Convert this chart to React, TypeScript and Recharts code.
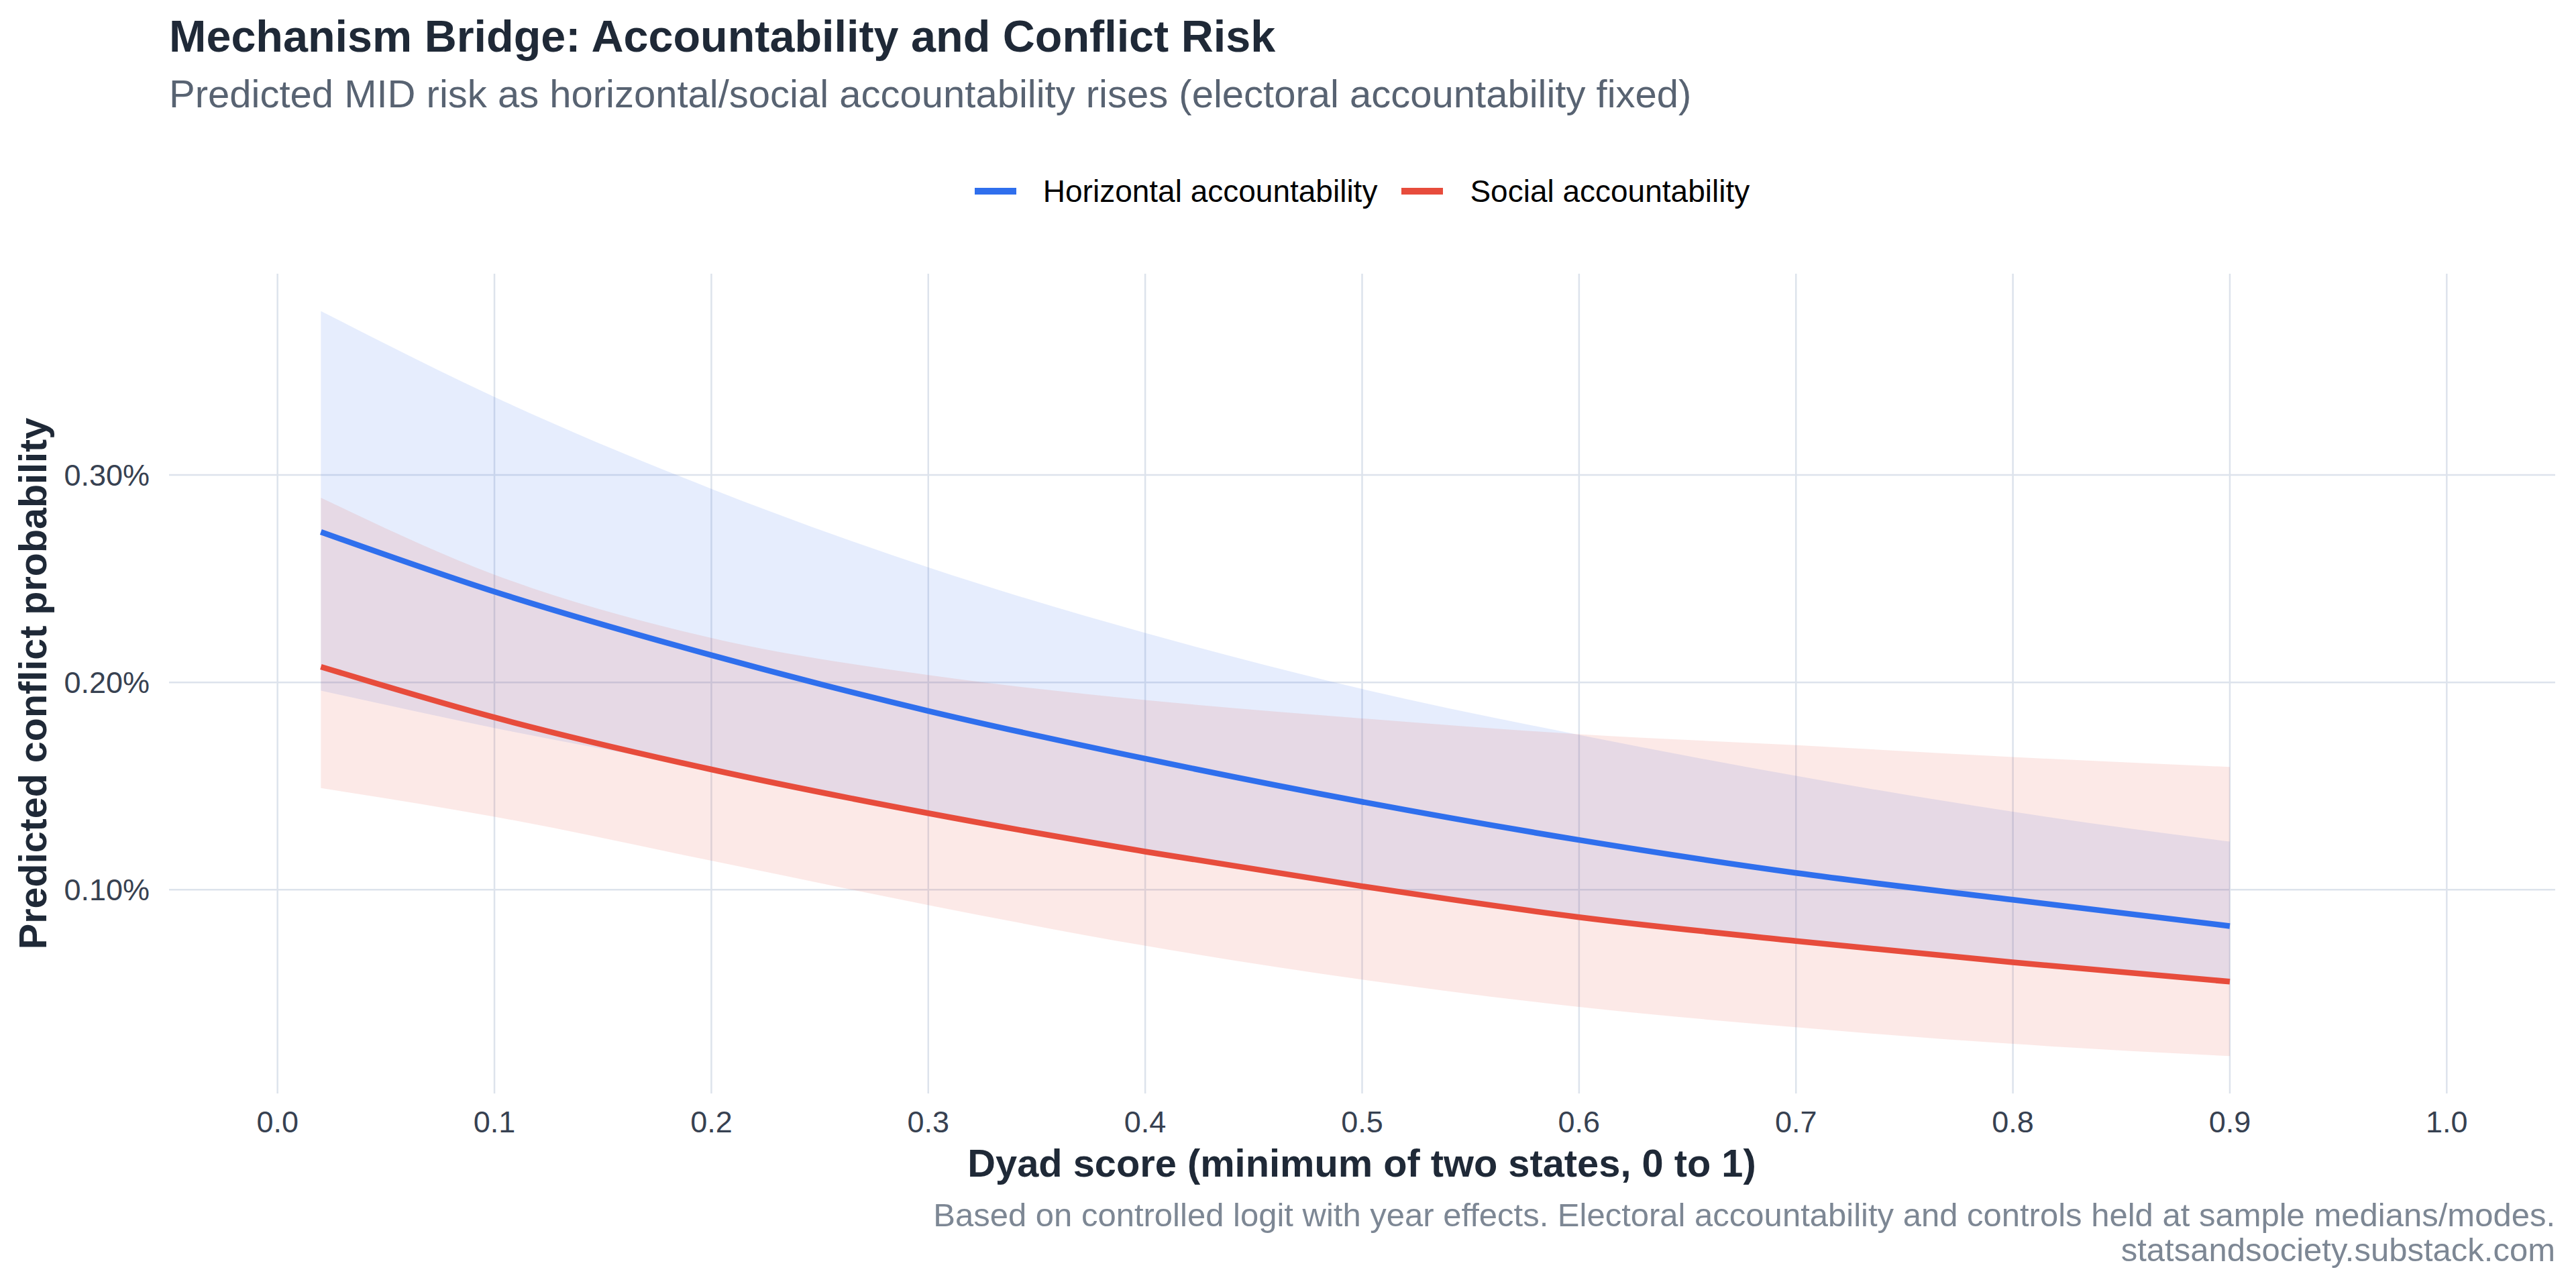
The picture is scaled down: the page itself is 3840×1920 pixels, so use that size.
import React from "react";
import {
  ComposedChart,
  Area,
  Line,
  XAxis,
  YAxis,
  CartesianGrid,
  Legend,
} from "recharts";

// Dyad score grid (x) and predicted MID probabilities, in percent
const scores = [0.02, 0.1, 0.2, 0.3, 0.4, 0.5, 0.6, 0.7, 0.8, 0.9];

const horizontalFit = [0.2725, 0.2437, 0.2131, 0.1862, 0.1632, 0.1424, 0.124, 0.1081, 0.0952, 0.0825];
const horizontalLow = [0.196, 0.178, 0.158, 0.1368, 0.1183, 0.1016, 0.0867, 0.0752, 0.0649, 0.0556];
const horizontalHigh = [0.379, 0.3376, 0.2933, 0.2554, 0.2238, 0.1968, 0.1747, 0.1549, 0.1376, 0.1232];

const socialFit = [0.2075, 0.1831, 0.158, 0.1369, 0.1184, 0.1017, 0.0868, 0.0753, 0.065, 0.0557];
const socialLow = [0.149, 0.1352, 0.114, 0.0926, 0.073, 0.0567, 0.0435, 0.0337, 0.0257, 0.0198];
const socialHigh = [0.289, 0.2519, 0.2214, 0.2035, 0.1915, 0.1826, 0.175, 0.1697, 0.164, 0.1592];

const xTicks = [0, 0.1, 0.2, 0.3, 0.4, 0.5, 0.6, 0.7, 0.8, 0.9, 1.0];
const yTicks = [0.1, 0.2, 0.3];

const BLUE = "#2f6fed";
const RED = "#e74c3c";
const FONT = "'Liberation Sans', Arial, Helvetica, sans-serif";

const data = scores.map((score, i) => ({
  score,
  horizontal: horizontalFit[i],
  horizontalBand: [horizontalLow[i], horizontalHigh[i]],
  social: socialFit[i],
  socialBand: [socialLow[i], socialHigh[i]],
}));

function LegendContent(props: any) {
  const items = (props.payload || []).filter((p: any) => p.type !== "none");
  return (
    <div
      style={{
        display: "flex",
        justifyContent: "center",
        alignItems: "center",
        height: 54,
        fontFamily: FONT,
        fontSize: 46,
        lineHeight: "54px",
        color: "#000",
      }}
    >
      {items.map((item: any, i: number) => (
        <div key={item.value} style={{ display: "flex", alignItems: "center", marginLeft: i === 0 ? 0 : 36 }}>
          <span style={{ display: "inline-block", width: 62, height: 10, background: item.color, marginRight: 40 }} />
          <span>{item.value}</span>
        </div>
      ))}
    </div>
  );
}

export default function App(): React.JSX.Element {
  return (
    <div
      style={{
        position: "absolute",
        left: 0,
        top: 0,
        width: 3840,
        height: 1920,
        background: "#ffffff",
        fontFamily: FONT,
      }}
    >
      <ComposedChart
        width={3840}
        height={1920}
        data={data}
        margin={{ top: 408, right: 31, bottom: 230, left: 0 }}
      >
        {/* only the major breaks, no panel edges */}
        <CartesianGrid
          stroke="#dde3ec"
          strokeWidth={2.5}
          syncWithTicks
          horizontalValues={yTicks}
          verticalValues={xTicks}
        />
        <XAxis
          dataKey="score"
          type="number"
          domain={[-0.05, 1.05]}
          ticks={xTicks}
          tickFormatter={(v: number) => v.toFixed(1)}
          axisLine={false}
          tickLine={false}
          tickSize={0}
          tickMargin={26}
          height={60}
          tick={{ fontSize: 45, fill: "#374151", fontFamily: FONT }}
        />
        <YAxis
          type="number"
          domain={[0.0018, 0.397]}
          ticks={yTicks}
          tickFormatter={(v: number) => `${v.toFixed(2)}%`}
          axisLine={false}
          tickLine={false}
          tickSize={0}
          tickMargin={29}
          width={252}
          tick={{ fontSize: 45, fill: "#374151", fontFamily: FONT }}
        />
        <Legend
          layout="horizontal"
          verticalAlign="middle"
          align="center"
          wrapperStyle={{ top: 258, left: 252, width: 3557 }}
          content={<LegendContent />}
        />
        <Area
          dataKey="horizontalBand"
          type="monotone"
          stroke="none"
          fill={BLUE}
          fillOpacity={0.12}
          legendType="none"
          isAnimationActive={false}
        />
        <Area
          dataKey="socialBand"
          type="monotone"
          stroke="none"
          fill={RED}
          fillOpacity={0.12}
          legendType="none"
          isAnimationActive={false}
        />
        <Line
          dataKey="horizontal"
          name="Horizontal accountability"
          type="monotone"
          stroke={BLUE}
          strokeWidth={8.5}
          dot={false}
          activeDot={false}
          legendType="line"
          isAnimationActive={false}
        />
        <Line
          dataKey="social"
          name="Social accountability"
          type="monotone"
          stroke={RED}
          strokeWidth={8.5}
          dot={false}
          activeDot={false}
          legendType="line"
          isAnimationActive={false}
        />
      </ComposedChart>

      <svg
        width={3840}
        height={1920}
        style={{ position: "absolute", left: 0, top: 0, pointerEvents: "none" }}
        fontFamily={FONT}
      >
        <text x={252} y={77} fontSize={66.5} fontWeight={700} fill="#1f2937">
          Mechanism Bridge: Accountability and Conflict Risk
        </text>
        <text x={252} y={160} fontSize={58} fill="#586372">
          Predicted MID risk as horizontal/social accountability rises (electoral accountability fixed)
        </text>
        <text x={2030} y={1754} fontSize={57.8} fontWeight={700} fill="#1f2937" textAnchor="middle">
          Dyad score (minimum of two states, 0 to 1)
        </text>
        <text
          x={69}
          y={1019}
          fontSize={57.5}
          fontWeight={700}
          fill="#1f2937"
          textAnchor="middle"
          transform="rotate(-90 69 1019)"
        >
          Predicted conflict probability
        </text>
        <text x={3809} y={1828} fontSize={49} fill="#7d8794" textAnchor="end">
          Based on controlled logit with year effects. Electoral accountability and controls held at sample medians/modes.
        </text>
        <text x={3809} y={1880} fontSize={49} fill="#7d8794" textAnchor="end">
          statsandsociety.substack.com
        </text>
      </svg>
    </div>
  );
}
